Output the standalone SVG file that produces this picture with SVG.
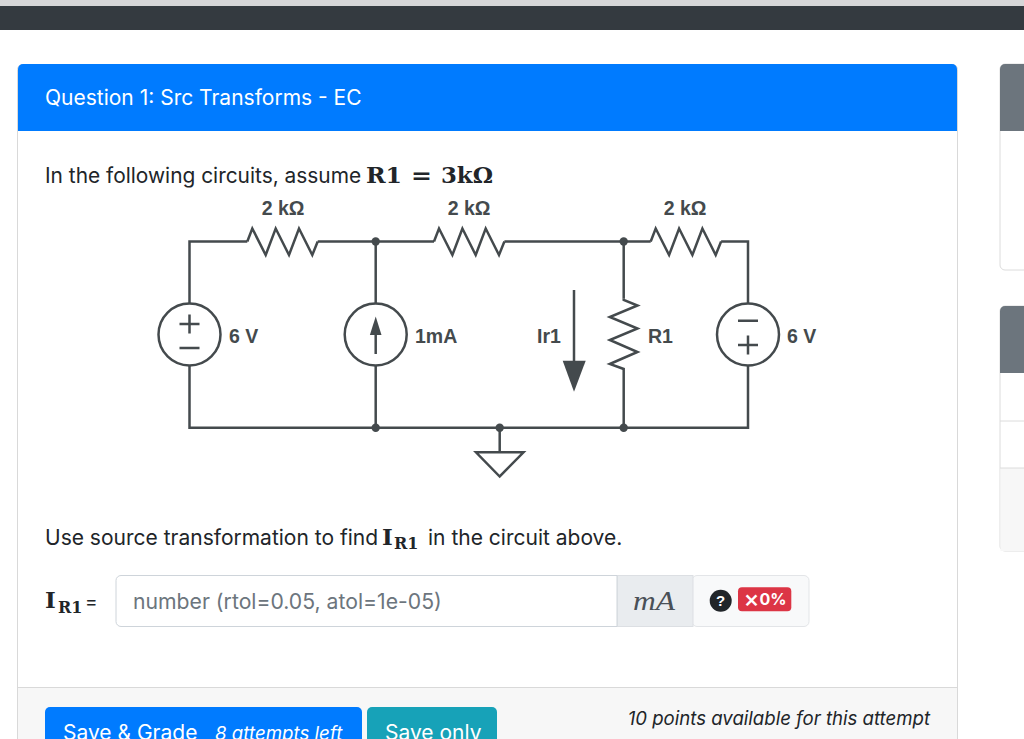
<svg xmlns="http://www.w3.org/2000/svg" width="1024" height="739" viewBox="0 0 1024 739">
<style>
.ui{font-family:Inter,"Noto Sans","Liberation Sans",sans-serif;font-size:21px;fill:#212529}
.m{font-family:"DejaVu Serif","Liberation Serif",serif;font-weight:700;font-size:23px;fill:#212529}
.s{font-size:16px}
.lb{font-family:"Liberation Sans",Arial,sans-serif;font-weight:700;font-size:19.500px;fill:#444a4d}
.w{fill:none;stroke:#444a4d;stroke-width:2.500;stroke-linejoin:miter}
.c{fill:#fff;stroke:#444a4d;stroke-width:2.500}
.d{fill:#444a4d}
</style>
<rect width="1024" height="739" fill="#fff"/>
<g id="topbar"><rect width="1024" height="7" fill="#d6d6d8"/><rect y="6" width="1024" height="24" fill="#343a40"/></g>
<g id="card">
<rect x="17.500" y="64.500" width="940" height="700" rx="5" fill="#fff" stroke="#d9d9d9"/>
<rect x="18" y="687.500" width="939" height="60" fill="#f7f7f7"/>
<path d="M18 687.500H957" stroke="#d9d9d9"/>
<path d="M18 131V69a5 5 0 0 1 5-5H952a5 5 0 0 1 5 5V131Z" fill="#007bff"/>
<text x="45" y="105" class="ui" style="fill:#fff">Question 1: Src Transforms - EC</text>
<text x="45" y="183" class="ui" style="font-size:20.900px">In the following circuits, assume</text>
<text x="366" y="183" class="m" textLength="36" lengthAdjust="spacingAndGlyphs">R1</text>
<text x="411" y="183" class="m" textLength="21" lengthAdjust="spacingAndGlyphs">=</text>
<text x="441" y="183" class="m" textLength="52" lengthAdjust="spacingAndGlyphs">3kΩ</text>
<text x="45" y="545" class="ui">Use source transformation to find</text>
<text x="382" y="545" class="m">I</text>
<text x="394" y="549" class="m s">R1</text>
<text x="428" y="545" class="ui">in the circuit above.</text>
</g>
<g id="connectors">
<path class="w" d="M189.500 304V241.500H247.300M317.700 241.500H434M504.400 241.500H650.700M721.100 241.500H748V304"/>
<path class="w" d="M189.500 365V427.700H748V365M375.700 241.500V304M375.700 365V427.700M623.700 241.500V298.300M623.700 370V427.700"/>
<path class="w" d="M499.700 427.700V452.300"/>
</g>
<g id="R_left"><path class="w" d="M247.300 241.500L252.300 228.500L265.700 255L275.700 228.500L289 255L299 228.500L312.300 255L317.700 241.500"/><text x="283" y="215" text-anchor="middle" class="lb">2 kΩ</text></g>
<g id="R_mid"><path class="w" d="M434 241.500L439 228.500L452.400 255L462.400 228.500L475.700 255L485.700 228.500L499 255L504.400 241.500"/><text x="469" y="215" text-anchor="middle" class="lb">2 kΩ</text></g>
<g id="R_right"><path class="w" d="M650.700 241.500L655.700 228.500L669.100 255L679.100 228.500L692.400 255L702.400 228.500L715.700 255L721.100 241.500"/><text x="685" y="215" text-anchor="middle" class="lb">2 kΩ</text></g>
<g id="V_left"><circle class="c" cx="189.500" cy="334.500" r="31"/><path class="w" d="M179.500 324H199.500M189.500 314.500V333.500M179.500 348H199.500"/><text x="229" y="343" class="lb">6 V</text></g>
<g id="I_src"><circle class="c" cx="375.700" cy="334.500" r="31"/><path class="w" d="M375.700 354V330"/><path class="d" d="M375.700 316.500L381.500 335H369.900Z"/><text x="415" y="343" class="lb">1mA</text></g>
<g id="Ir1_arrow"><path class="w" d="M574 290V362"/><path class="d" d="M562.700 360.700H585.700L574 391.700Z"/><text x="537" y="343" class="lb">Ir1</text></g>
<g id="R1"><path class="w" d="M623.700 298.300V300L637.500 305.500L609.800 317L637.500 328.500L609.800 340L637.500 352L609.800 364L623.700 369V370"/><text x="648" y="343" class="lb">R1</text></g>
<g id="V_right"><circle class="c" cx="748" cy="334.500" r="31"/><path class="w" d="M738 320.700H758M738 345H758M748 335.500V354.500"/><text x="787" y="343" class="lb">6 V</text></g>
<g id="dots"><circle class="d" cx="375.700" cy="241.500" r="4.200"/><circle class="d" cx="623.700" cy="241.500" r="4.200"/><circle class="d" cx="375.700" cy="427.700" r="4.200"/><circle class="d" cx="499.700" cy="427.700" r="4.200"/><circle class="d" cx="623.700" cy="427.700" r="4.200"/></g>
<g id="ground"><path class="w" d="M476 452.300H523.500L499.700 476.500Z"/></g>
<g id="answer">
<text x="45" y="608" class="m">I</text>
<text x="58" y="612.500" class="m s">R1</text>
<text x="85" y="608" class="ui" style="font-size:19px">=</text>
<rect x="692" y="575.500" width="117" height="51" rx="5" fill="#f8f9fa" stroke="#e3e5e8"/>
<rect x="617" y="575.500" width="76" height="51" fill="#e9ecef" stroke="#dcdfe3"/>
<path d="M617 575.500H121a5 5 0 0 0-5 5V621.500a5 5 0 0 0 5 5H617Z" fill="#fff" stroke="#ced4da"/>
<text x="133" y="609" class="ui" style="fill:#6c757d;font-size:21.200px">number (rtol=0.05, atol=1e-05)</text>
<text x="633" y="610" font-family="'Liberation Serif',serif" font-style="italic" font-size="28" fill="#495057" textLength="42" lengthAdjust="spacingAndGlyphs">mA</text>
<circle cx="720.700" cy="600.700" r="11" fill="#212529"/>
<text x="720.700" y="606" text-anchor="middle" font-family="'Liberation Sans',sans-serif" font-weight="700" font-size="15" fill="#fff">?</text>
<rect x="738" y="587.300" width="53.300" height="24" rx="4" fill="#dc3545"/>
<text x="743.500" y="607" class="ui" style="fill:#fff;font-size:24px;font-weight:500">×</text>
<text x="759.500" y="605" class="ui" style="fill:#fff;font-size:16px;font-weight:700">0%</text>
</g>
<g id="footer">
<path d="M45 739V712a5 5 0 0 1 5-5H357a5 5 0 0 1 5 5V739Z" fill="#007bff"/>
<path d="M367 739V712a5 5 0 0 1 5-5H492a5 5 0 0 1 5 5V739Z" fill="#17a2b8"/>
<text x="63" y="740" class="ui" style="fill:#fff">Save &amp; Grade</text>
<text x="215" y="740" class="ui" style="fill:#fff;font-size:18.700px;font-style:italic">8 attempts left</text>
<text x="385" y="740" class="ui" style="fill:#fff">Save only</text>
<text x="930" y="725" text-anchor="end" class="ui" style="font-size:18.600px;font-style:italic">10 points available for this attempt</text>
</g>
<g id="side1"><rect x="1000" y="64" width="40" height="206" rx="5" fill="#fff" stroke="#dcdcdc"/><path d="M1000 131V69a5 5 0 0 1 5-5H1024V131Z" fill="#6c757d"/></g>
<g id="side2"><rect x="1000" y="306" width="40" height="245" rx="5" fill="#fff" stroke="#dcdcdc"/><rect x="1000.500" y="468" width="24" height="83" fill="#f7f7f7"/><path d="M1000 373V311a5 5 0 0 1 5-5H1024V373Z" fill="#6c757d"/><path d="M1000 421H1024M1000 468H1024" stroke="#dcdcdc"/></g>
</svg>
